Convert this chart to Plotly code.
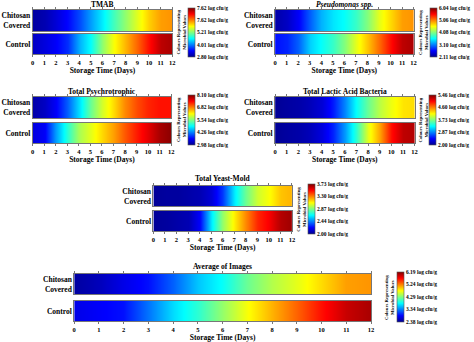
import plotly.graph_objects as go

# ---------------- data ----------------
days = list(range(13))
row_labels = ["Chitosan<br>Covered", "Control"]
panel_titles = ["TMAB", "<i>Pseudomonas spp.</i>", "Total Psychrotrophic",
                "Total Lactic Acid Bacteria", "Total Yeast-Mold", "Average of Images"]

# log cfu/g along storage days 0..12
tmab_chitosan = [2.90, 2.99, 3.19, 3.43, 3.76, 4.15, 4.54, 4.92, 5.31, 5.69, 6.03, 6.27, 6.32]
tmab_control = [3.09, 3.23, 3.38, 3.62, 4.25, 4.63, 5.31, 5.79, 6.17, 6.56, 6.95, 7.33, 7.43]
pseudo_chitosan = [2.23, 2.35, 2.58, 2.97, 3.29, 3.49, 3.60, 3.80, 4.08, 4.47, 4.70, 4.94, 4.98]
pseudo_control = [2.66, 2.74, 2.97, 3.41, 3.60, 3.80, 4.08, 4.47, 4.78, 5.14, 5.49, 5.80, 5.88]
psychro_chitosan = [3.13, 3.29, 3.59, 4.11, 4.72, 5.44, 5.95, 6.36, 6.77, 7.08, 7.28, 7.38, 7.38]
psychro_control = [3.44, 3.59, 4.41, 5.13, 5.74, 6.05, 6.36, 6.67, 7.02, 7.33, 7.59, 7.90, 8.05]
lab_chitosan = [2.03, 2.07, 2.10, 2.17, 2.28, 2.52, 2.90, 3.31, 3.66, 3.94, 4.11, 4.25, 4.28]
lab_control = [2.03, 2.07, 2.10, 2.17, 2.31, 2.55, 2.97, 3.45, 4.08, 4.49, 4.98, 5.25, 5.29]
ym_chitosan = [2.02, 2.03, 2.03, 2.05, 2.07, 2.14, 2.31, 2.62, 2.83, 3.00, 3.07, 3.18, 3.21]
ym_control = [2.02, 2.03, 2.05, 2.07, 2.21, 2.62, 2.90, 3.11, 3.28, 3.45, 3.52, 3.64, 3.68]
avg_chitosan = [2.46, 2.57, 2.76, 2.91, 3.22, 3.60, 3.83, 4.21, 4.48, 4.67, 4.89, 5.12, 5.16]
avg_control = [2.76, 2.84, 2.91, 3.29, 3.68, 3.98, 4.36, 4.74, 5.05, 5.35, 5.66, 5.92, 6.04]

# colour-bar ranges and labels (as printed)
tmab_range = [2.80, 7.62]
pseudo_range = [2.11, 6.04]
psychro_range = [2.98, 8.10]
lab_range = [2.00, 5.46]
ym_range = [2.00, 3.73]
avg_range = [2.38, 6.19]
tmab_cb_labels = ["2.80", "4.01", "5.21", "7.62", "7.62"]
pseudo_cb_labels = ["2.11", "3.10", "4.08", "5.06", "6.04"]
psychro_cb_labels = ["2.98", "4.26", "5.54", "6.82", "8.10"]
lab_cb_labels = ["2.00", "2.87", "3.73", "4.60", "5.46"]
ym_cb_labels = ["2.00", "2.44", "2.87", "3.30", "3.73"]
avg_cb_labels = ["2.38", "3.34", "4.29", "5.24", "6.19"]

series = [
    (tmab_chitosan, tmab_control, tmab_range, tmab_cb_labels),
    (pseudo_chitosan, pseudo_control, pseudo_range, pseudo_cb_labels),
    (psychro_chitosan, psychro_control, psychro_range, psychro_cb_labels),
    (lab_chitosan, lab_control, lab_range, lab_cb_labels),
    (ym_chitosan, ym_control, ym_range, ym_cb_labels),
    (avg_chitosan, avg_control, avg_range, avg_cb_labels),
]

# ---------------- layout (pixel geometry) ----------------
W, H = 474, 342
def px(x): return x / W
def py(y): return 1 - y / H

# x0, x1, top bar (y0,y1), bottom bar (y0,y1), cb x, cb (y0,y1), title y, cb title x
geom = [
    (31, 172, (10, 31), (34, 54), 188, (8, 57), 4, 181),
    (276, 416, (10, 31), (34, 54), 433, (8, 57), 4, 426),
    (31, 171, (97, 118), (123, 143), 188, (95, 145), 91, 181),
    (276, 417, (97, 118), (123, 143), 432, (95, 145), 91, 425),
    (153, 293, (186, 206), (211, 231), 309, (184, 234), 178, 302),
    (73, 373, (274, 294), (301, 321), 399, (272, 322), 266, 391),
]

jet = [[0, "rgb(0,0,143)"], [0.125, "rgb(0,0,255)"], [0.375, "rgb(0,255,255)"],
       [0.625, "rgb(255,255,0)"], [0.875, "rgb(255,0,0)"], [1, "rgb(128,0,0)"]]

FONT = "Liberation Serif"
fig = go.Figure()
layout = dict(
    width=W, height=H, margin=dict(l=0, r=0, t=0, b=0),
    paper_bgcolor="white", plot_bgcolor="white",
    font=dict(family=FONT, size=7, color="black", weight="bold"),
    showlegend=False,
)
annotations = []

for i, ((chi, ctl, rng, cbl), g) in enumerate(zip(series, geom)):
    x0, x1, top, bot, cbx, cby, ty, ctx = g
    ca = "coloraxis" + ("" if i == 0 else str(i + 1))
    n = rng[1] - rng[0]
    tickvals = [rng[0] + n * k / 4 for k in range(5)]
    layout[ca] = dict(
        cmin=rng[0], cmax=rng[1], colorscale=jet,
        colorbar=dict(
            x=px(cbx), xanchor="left", xref="paper",
            y=py((cby[0] + cby[1]) / 2), yanchor="middle", yref="paper",
            len=(cby[1] - cby[0]) / H, lenmode="fraction",
            thickness=7, thicknessmode="pixels",
            outlinewidth=0.6, outlinecolor="#555",
            tickvals=tickvals, ticktext=[t + " log cfu/g" for t in cbl],
            ticks="", tickfont=dict(size=5.5, family=FONT, weight="bold"),
            xpad=0, ypad=0,
        ),
    )
    for j, (vals, (yy0, yy1)) in enumerate([(chi, top), (ctl, bot)]):
        k = 2 * i + j + 1
        xa, ya = "x" + str(k), "y" + str(k)
        fig.add_trace(go.Heatmap(
            x=days, y=[0], z=[vals], coloraxis=ca,
            xaxis=xa, yaxis=ya, zsmooth="best", hoverinfo="skip",
        ))
        xaxis = dict(
            domain=[px(x0), px(x1)], anchor=ya, range=[0, 12],
            showline=True, linecolor="#777", linewidth=0.8, mirror=True,
            ticks="outside", ticklen=2, tickcolor="#777", dtick=1, tick0=0,
            showgrid=False, zeroline=False, fixedrange=True,
            tickfont=dict(size=6.5, family=FONT, weight="bold"),
        )
        if j == 0:
            xaxis.update(side="top", showticklabels=False)
        else:
            xaxis.update(title=dict(text="Storage Time (Days)", standoff=1,
                                    font=dict(size=7.5, family=FONT, weight="bold")))
        layout["xaxis" + ("" if k == 1 else str(k))] = xaxis
        layout["yaxis" + ("" if k == 1 else str(k))] = dict(
            domain=[py(yy1), py(yy0)], anchor=xa, range=[-0.5, 0.5],
            tickvals=[0], ticktext=[row_labels[j]], ticks="",
            showline=True, linecolor="#777", linewidth=0.8, mirror=True,
            showgrid=False, zeroline=False, fixedrange=True,
            tickfont=dict(size=7.5, family=FONT, weight="bold"),
        )
    annotations.append(dict(
        text=panel_titles[i], x=px((x0 + x1) / 2), y=py(ty), xref="paper", yref="paper",
        showarrow=False, xanchor="center", yanchor="middle",
        font=dict(size=7.5, family=FONT, weight="bold"),
    ))
    annotations.append(dict(
        text="Colours Representing<br>Microbial Values", x=px(ctx), y=py((cby[0] + cby[1]) / 2),
        xref="paper", yref="paper", showarrow=False, textangle=-90,
        xanchor="center", yanchor="middle", borderpad=0,
        font=dict(size=4.8, family=FONT, weight="bold"),
    ))

layout["annotations"] = annotations
fig.update_layout(**layout)
fig.write_html("out.html")
